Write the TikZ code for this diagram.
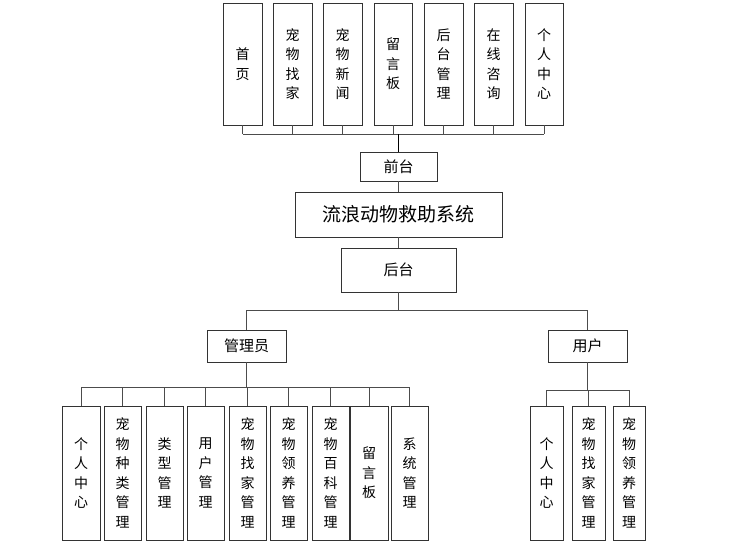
\documentclass[tikz,border=0pt]{standalone}
\usepackage{fontspec}
\setmainfont{Noto Sans CJK SC}
\begin{document}
\begin{tikzpicture}[x=1pt,y=-1pt,
 bx/.style={draw=black!80,line width=0.8pt,fill=white,inner sep=0pt,align=center,font=\fontsize{14}{19.5}\selectfont},
 ln/.style={draw=black!70,line width=0.8pt}]
\useasboundingbox (0,0) rectangle (730,545);
\newcommand\vb[6]{\node[bx,minimum width=#3-#2,minimum height=#5-#4] (#1) at ({(#2+#3)/2},{(#4+#5)/2}) {#6};}
% top
\vb{t1}{223}{262}{3}{125}{首\\页}
\vb{t2}{273}{312}{3}{125}{宠\\物\\找\\家}
\vb{t3}{323}{362}{3}{125}{宠\\物\\新\\闻}
\vb{t4}{374}{412}{3}{125}{留\\言\\板}
\vb{t5}{424}{463}{3}{125}{后\\台\\管\\理}
\vb{t6}{474}{513}{3}{125}{在\\线\\咨\\询}
\vb{t7}{525}{563}{3}{125}{个\\人\\中\\心}
\node[bx,minimum width=77,minimum height=29,font=\fontsize{15}{18}\selectfont] (qt) at (398.5,166.5) {前台};
\node[bx,minimum width=207,minimum height=45,font=\fontsize{19}{22}\selectfont] (sys) at (398.5,214.5) {流浪动物救助系统};
\node[bx,minimum width=115,minimum height=44,font=\fontsize{15}{18}\selectfont] (ht) at (398.5,270) {后台};
\node[bx,minimum width=79,minimum height=32,font=\fontsize{15}{18}\selectfont] (gly) at (246.5,346) {管理员};
\node[bx,minimum width=79,minimum height=32,font=\fontsize{15}{18}\selectfont] (yh) at (587.5,346) {用户};
% bottom left
\vb{a1}{62}{100}{406}{540}{个\\人\\中\\心}
\vb{a2}{104}{141}{406}{540}{宠\\物\\种\\类\\管\\理}
\vb{a3}{146}{183}{406}{540}{类\\型\\管\\理}
\vb{a4}{187}{224}{406}{540}{用\\户\\管\\理}
\vb{a5}{229}{266}{406}{540}{宠\\物\\找\\家\\管\\理}
\vb{a6}{270}{307}{406}{540}{宠\\物\\领\\养\\管\\理}
\vb{a7}{312}{349}{406}{540}{宠\\物\\百\\科\\管\\理}
\vb{a8}{350}{388}{406}{540}{留\\言\\板}
\vb{a9}{391}{428}{406}{540}{系\\统\\管\\理}
\vb{b1}{530}{563}{406}{540}{个\\人\\中\\心}
\vb{b2}{572}{605}{406}{540}{宠\\物\\找\\家\\管\\理}
\vb{b3}{613}{645}{406}{540}{宠\\物\\领\\养\\管\\理}
% connectors
\foreach \n in {t1,t2,t3,t4,t5,t6,t7} \draw[ln] (\n.south) -- (\n.south |- 0,134);
\draw[ln] (t1.south |- 0,134) -- (t7.south |- 0,134);
\draw[line width=1.4pt] (qt.north |- 0,134) -- (qt.north);
\draw[ln] (qt) -- (sys); \draw[ln] (sys) -- (ht);
\draw[ln] (ht.south) -- (ht.south |- 0,310);
\draw[ln] (gly.north |- 0,310) -- (yh.north |- 0,310);
\draw[ln] (gly.north |- 0,310) -- (gly.north);
\draw[ln] (yh.north |- 0,310) -- (yh.north);
\draw[ln] (gly.south) -- (gly.south |- 0,387);
\foreach \n in {a1,a2,a3,a4,a5,a6,a7,a8,a9} \draw[ln] (\n.north) -- (\n.north |- 0,387);
\draw[ln] (a1.north |- 0,387) -- (a9.north |- 0,387);
\draw[ln] (yh.south) -- (yh.south |- 0,390);
\foreach \n in {b1,b2,b3} \draw[ln] (\n.north) -- (\n.north |- 0,390);
\draw[ln] (b1.north |- 0,390) -- (b3.north |- 0,390);
\end{tikzpicture}
\end{document}
